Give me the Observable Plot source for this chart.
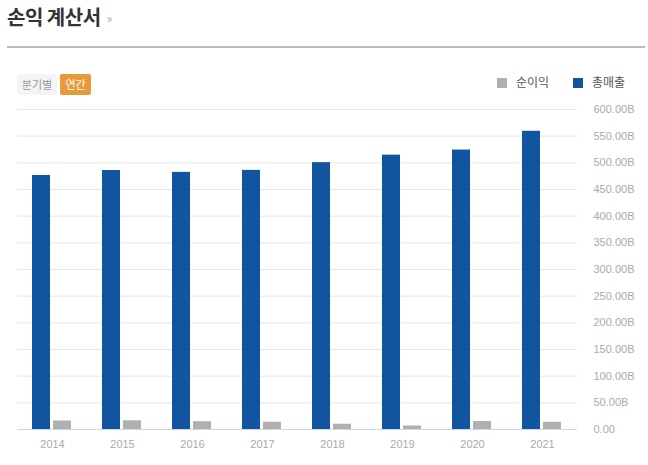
<!DOCTYPE html>
<html>
<head>
<meta charset="utf-8">
<script src="https://cdn.jsdelivr.net/npm/d3@7"></script>
<script src="https://cdn.jsdelivr.net/npm/@observablehq/plot@0.6"></script>
<style>
  body { margin: 0; width: 648px; height: 465px; background: #fff; position: relative; overflow: hidden;
         font-family: "Liberation Sans", "Noto Sans CJK KR", sans-serif; }
  #title { position: absolute; left: 7px; top: 2px; font-size: 20px; font-weight: bold; color: #333;
           font-family: "Noto Sans CJK KR", sans-serif; letter-spacing: -0.5px; }
  #title span { font-size: 12px; color: #aaa; font-weight: normal; margin-left: 6px; vertical-align: 2px; }
  #sep { position: absolute; left: 7px; top: 46px; width: 638px; height: 2px; background: #bbb; }
  .btn { position: absolute; top: 74px; height: 21px; line-height: 21px; font-size: 11px; text-align: center;
         font-family: "Noto Sans CJK KR", sans-serif; border-radius: 2px; }
  #b1 { left: 17px; width: 40px; background: #f4f4f4; color: #999; }
  #b2 { left: 60px; width: 31px; background: #e8993b; color: #fff; }
  .leg { position: absolute; top: 73px; font-size: 12px; color: #555; font-family: "Noto Sans CJK KR", sans-serif; line-height: 18px; }
  .sw { display: inline-block; width: 10px; height: 10px; vertical-align: -1px; margin-right: 9px; }
  #chart { position: absolute; left: 0; top: 100px; }
</style>
</head>
<body>
<div id="title">손익 계산서<span>»</span></div>
<div id="sep"></div>
<div class="btn" id="b1">분기별</div>
<div class="btn" id="b2">연간</div>
<div class="leg" style="left:497px"><span class="sw" style="background:#b0b0b0"></span>순이익</div>
<div class="leg" style="left:573px"><span class="sw" style="background:#11549f"></span>총매출</div>
<div id="chart"></div>
<script>
const years = ["2014", "2015", "2016", "2017", "2018", "2019", "2020", "2021"];
const revenue = [476.29, 485.65, 482.13, 485.87, 500.34, 514.41, 523.96, 559.15];
const netIncome = [16.02, 16.36, 14.69, 13.64, 9.86, 6.67, 14.88, 13.51];
const yTicks = [0, 50, 100, 150, 200, 250, 300, 350, 400, 450, 500, 550, 600];

const rows = years.map((y, i) => ({year: y, revenue: revenue[i], net: netIncome[i]}));

const chart = Plot.plot({
  width: 648,
  height: 365,
  marginTop: 9,
  marginBottom: 36,
  marginLeft: 17,
  marginRight: 71,
  style: {fontFamily: "'Liberation Sans', sans-serif", fontSize: "11px", color: "#aaa", background: "transparent"},
  x: {domain: years, padding: 0, label: null, tickSize: 0, tickPadding: 11},
  y: {domain: [0, 600], ticks: yTicks, label: null, axis: "right", tickSize: 0, tickPadding: 16,
      tickFormat: d => d === 0 ? "0.00" : d.toFixed(2) + "B"},
  marks: [
    Plot.ruleY(yTicks.filter(d => d > 0), {stroke: "#e6e6e6", strokeWidth: 1}),
    Plot.barY(rows, {x: "year", y: "revenue", fill: "#11549f", insetLeft: 15, insetRight: 37}),
    Plot.barY(rows, {x: "year", y: "net", fill: "#b0b0b0", insetLeft: 36, insetRight: 16}),
    Plot.ruleY([0], {stroke: "#ccd6eb", strokeWidth: 1})
  ]
});
document.getElementById("chart").appendChild(chart);
</script>
</body>
</html>
